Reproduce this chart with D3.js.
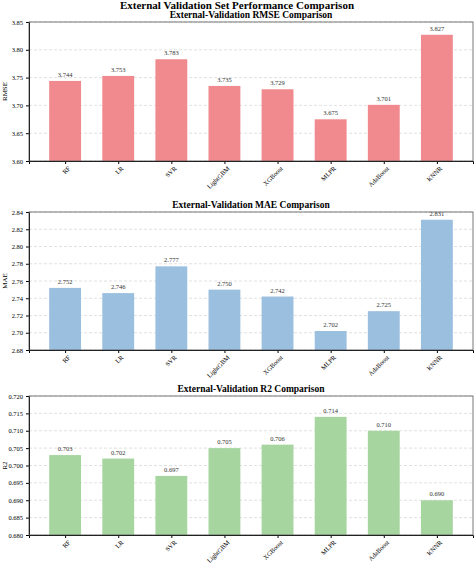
<!DOCTYPE html>
<html>
<head>
<meta charset="utf-8">
<style>
  body { margin: 0; background: #fff; }
  text { font-family: "Liberation Serif", "DejaVu Serif", serif; }
</style>
</head>
<body>
<svg width="474" height="565"></svg>
<script src="https://d3js.org/d3.v7.min.js"></script>
<script>
var models = ['RF', 'LR', 'SVR', 'LightGBM', 'XGBoost', 'MLPR', 'AdaBoost', 'KNNR'];
var rmse = [3.744, 3.753, 3.783, 3.735, 3.729, 3.675, 3.701, 3.827];
var mae = [2.752, 2.746, 2.777, 2.750, 2.742, 2.702, 2.725, 2.831];
var r2 = [0.703, 0.702, 0.697, 0.705, 0.706, 0.714, 0.710, 0.690];
var rmseTicks = [3.60, 3.65, 3.70, 3.75, 3.80, 3.85];
var maeTicks = [2.68, 2.70, 2.72, 2.74, 2.76, 2.78, 2.80, 2.82, 2.84];
var r2Ticks = [0.680, 0.685, 0.690, 0.695, 0.700, 0.705, 0.710, 0.715, 0.720];

var svg = d3.select('svg');
svg.append('text').attr('x', 237).attr('y', 9).attr('text-anchor', 'middle')
  .attr('font-size', 11).attr('font-weight', 'bold').text('External Validation Set Performance Comparison');

var left = 29, right = 473;
var x = d3.scaleLinear().domain([-0.68, 7.68]).range([left, right]);
var bw = (x(1) - x(0)) * 0.6;

function panel(vals, ticks, top, bottom, color, title, ylab, fmt) {
  var y = d3.scaleLinear().domain([ticks[0], ticks[ticks.length - 1]]).range([bottom, top]);
  var g = svg.append('g');
  g.append('text').attr('x', (left + right) / 2).attr('y', top - 4).attr('text-anchor', 'middle')
    .attr('font-size', 9.5).attr('font-weight', 'bold').text(title);
  g.selectAll('.grid').data(ticks).enter().append('line')
    .attr('x1', left).attr('x2', right).attr('y1', d => y(d)).attr('y2', d => y(d))
    .attr('stroke', '#ccc').attr('stroke-width', 0.6).attr('stroke-dasharray', '3,2');
  g.selectAll('rect').data(vals).enter().append('rect')
    .attr('x', (d, i) => x(i) - bw / 2).attr('width', bw)
    .attr('y', d => y(d)).attr('height', d => bottom - y(d)).attr('fill', color);
  g.selectAll('.val').data(vals).enter().append('text')
    .attr('x', (d, i) => x(i)).attr('y', d => y(d) - 4).attr('text-anchor', 'middle')
    .attr('font-size', 6.5).attr('fill', '#333').text(d => d3.format(fmt)(d));
  var ya = d3.axisLeft(y).tickValues(ticks).tickSize(3).tickFormat(d3.format(fmt === '.3f' && ticks[0] < 1 ? '.3f' : '.2f'));
  g.append('g').attr('transform', 'translate(' + left + ',0)').call(ya)
    .call(a => a.selectAll('text').attr('font-size', 6.5).attr('font-family', 'Liberation Serif'));
  var xa = d3.axisBottom(x).tickValues(d3.range(models.length)).tickSize(3).tickFormat(i => models[i]);
  g.append('g').attr('transform', 'translate(0,' + bottom + ')').call(xa)
    .call(a => a.selectAll('text').attr('font-size', 6.5).attr('font-family', 'Liberation Serif')
      .attr('text-anchor', 'end').attr('transform', 'rotate(-45)').attr('dx', '-0.3em').attr('dy', '0.5em'));
  g.append('rect').attr('x', left).attr('y', top).attr('width', right - left).attr('height', bottom - top)
    .attr('fill', 'none').attr('stroke', '#555').attr('stroke-width', 0.8);
  g.append('text').attr('transform', 'translate(7,' + ((top + bottom) / 2) + ') rotate(-90)')
    .attr('text-anchor', 'middle').attr('font-size', 7).text(ylab);
}

panel(rmse, rmseTicks, 22, 161, '#f08a8e', 'External-Validation RMSE Comparison', 'RMSE', '.3f');
panel(mae, maeTicks, 212, 350, '#9bbfdf', 'External-Validation MAE Comparison', 'MAE', '.3f');
panel(r2, r2Ticks, 396, 535, '#a6d5a0', 'External-Validation R2 Comparison', 'R2', '.3f');
</script>
</body>
</html>
